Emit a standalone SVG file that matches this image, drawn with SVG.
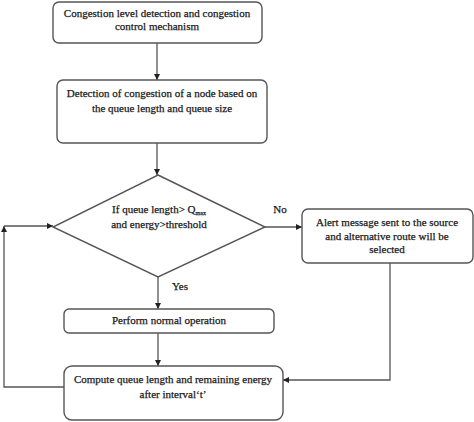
<svg xmlns="http://www.w3.org/2000/svg" width="474" height="422" viewBox="0 0 474 422">
<defs>
<style>
.box{fill:#fff;stroke:#555;stroke-width:1.4}
.t{font-size:11px;fill:#1a1a1a;stroke:#1a1a1a;stroke-width:0.25;text-anchor:middle}
.c{fill:none;stroke:#555;stroke-width:1.3}
</style>
<marker id="ah" viewBox="0 0 10 10" refX="10" refY="5" markerWidth="6" markerHeight="6" orient="auto" markerUnits="userSpaceOnUse">
<path d="M0,0 L10,5 L0,10 z" fill="#222"/>
</marker>
</defs>
<rect width="474" height="422" fill="#fff"/>
<g font-family="'Liberation Serif', 'DejaVu Serif', serif">
<g id="connectors">
<line class="c" x1="157" y1="43" x2="157" y2="80" marker-end="url(#ah)"/>
<line class="c" x1="157" y1="143" x2="157" y2="175" marker-end="url(#ah)"/>
<line class="c" x1="265" y1="227" x2="302" y2="227" marker-end="url(#ah)"/>
<line class="c" x1="158" y1="277" x2="158" y2="309" marker-end="url(#ah)"/>
<line class="c" x1="158" y1="333" x2="158" y2="366" marker-end="url(#ah)"/>
<polyline class="c" points="390,263 390,380 283,380" marker-end="url(#ah)"/>
<polyline class="c" points="64,387 4,387 4,226" marker-end="url(#ah)"/>
<line class="c" x1="4" y1="226" x2="53" y2="226" marker-end="url(#ah)"/>
<text class="t" x="280" y="213">No</text>
<text class="t" x="180" y="290">Yes</text>
</g>
<g id="n1">
<rect class="box" x="53" y="2" width="209" height="41" rx="6"/>
<text class="t" x="157" y="17">Congestion level detection and congestion</text>
<text class="t" x="157" y="30">control mechanism</text>
</g>
<g id="n2">
<rect class="box" x="57" y="80" width="210" height="63" rx="6"/>
<text class="t" x="162" y="97">Detection of congestion of a node based on</text>
<text class="t" x="162" y="112">the queue length and queue size</text>
</g>
<g id="n3">
<polygon class="box" points="158,175 265,227 158,277 53,227"/>
<text class="t" x="159" y="213">If queue length&gt; Q<tspan font-size="6" dy="2">max</tspan></text>
<text class="t" x="159" y="228">and energy&gt;threshold</text>
</g>
<g id="n4">
<rect class="box" x="302" y="209" width="171" height="54" rx="6"/>
<text class="t" x="387" y="226">Alert message sent to the source</text>
<text class="t" x="387" y="240">and alternative route will be</text>
<text class="t" x="387" y="253">selected</text>
</g>
<g id="n5">
<rect class="box" x="64" y="309" width="210" height="24" rx="5"/>
<text class="t" x="169" y="324">Perform normal operation</text>
</g>
<g id="n6">
<rect class="box" x="64" y="366" width="219" height="54" rx="8"/>
<text class="t" x="173" y="383">Compute queue length and remaining energy</text>
<text class="t" x="173" y="398">after interval‘t’</text>
</g>
</g>
</svg>
